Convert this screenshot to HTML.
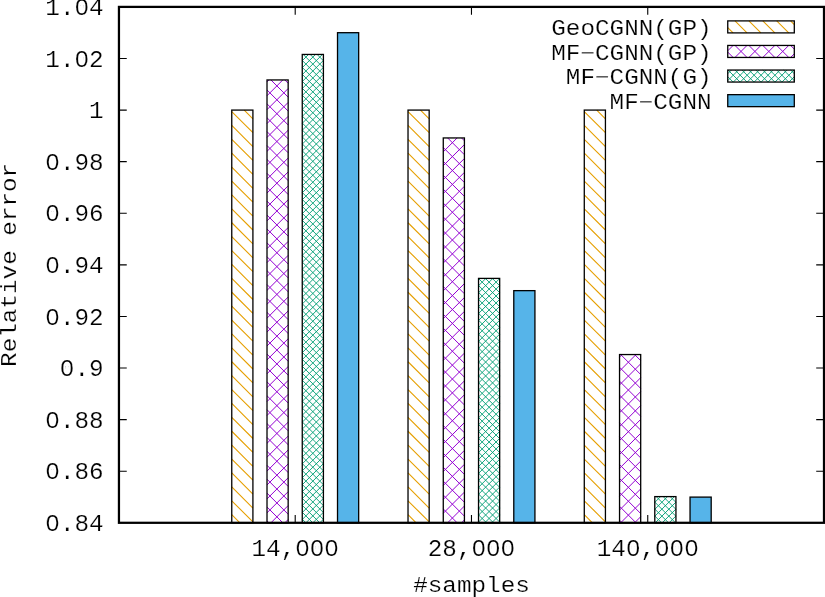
<!DOCTYPE html>
<html lang="en">
<head>
<meta charset="utf-8">
<title>Relative error vs #samples</title>
<style>
html,body{margin:0;padding:0;background:#fff;}
body{width:825px;height:597px;overflow:hidden;}
svg{display:block;}
</style>
</head>
<body>
<svg width="825" height="597" viewBox="0 0 825 597">
<desc>Clustered bar chart of Relative error against #samples (14,000, 28,000, 140,000) for GeoCGNN(GP), MF-CGNN(GP), MF-CGNN(G) and MF-CGNN.</desc>
<rect x="0" y="0" width="825" height="597" fill="#fff"/>
<path d="M118.95 471.21h7.8M824 471.21h-7.8M118.95 419.62h7.8M824 419.62h-7.8M118.95 368.03h7.8M824 368.03h-7.8M118.95 316.44h7.8M824 316.44h-7.8M118.95 264.85h7.8M824 264.85h-7.8M118.95 213.26h7.8M824 213.26h-7.8M118.95 161.67h7.8M824 161.67h-7.8M118.95 110.08h7.8M824 110.08h-7.8M118.95 58.49h7.8M824 58.49h-7.8M295.21 522.8v-7.8M295.21 6.9v7.8M471.47 522.8v-7.8M471.47 6.9v7.8M647.74 522.8v-7.8M647.74 6.9v7.8" fill="none" stroke="#000" stroke-width="1.1"/>
<path d="M239.88 522.8L231.76 514.67M252.91 521.92L231.76 500.77M252.91 508.02L231.76 486.87M252.91 494.12L231.76 472.97M252.91 480.22L231.76 459.07M252.91 466.32L231.76 445.17M252.91 452.41L231.76 431.26M252.91 438.51L231.76 417.36M252.91 424.61L231.76 403.46M252.91 410.71L231.76 389.56M252.91 396.81L231.76 375.66M252.91 382.91L231.76 361.76M252.91 369L231.76 347.85M252.91 355.1L231.76 333.95M252.91 341.2L231.76 320.05M252.91 327.3L231.76 306.15M252.91 313.4L231.76 292.25M252.91 299.5L231.76 278.35M252.91 285.59L231.76 264.44M252.91 271.69L231.76 250.54M252.91 257.79L231.76 236.64M252.91 243.89L231.76 222.74M252.91 229.99L231.76 208.84M252.91 216.09L231.76 194.94M252.91 202.18L231.76 181.03M252.91 188.28L231.76 167.13M252.91 174.38L231.76 153.23M252.91 160.48L231.76 139.33M252.91 146.58L231.76 125.43M252.91 132.67L231.76 111.52M252.91 118.77L244.22 110.08" fill="none" stroke="#e69f00" stroke-width="1.1"/>
<rect x="231.76" y="110.08" width="21.15" height="412.72" fill="none" stroke="#000" stroke-width="1.3"/>
<path d="M267.01 81.86L268.92 79.95M267.01 520.89L268.92 522.8M267.01 95.76L282.82 79.95M267.01 506.99L282.82 522.8M267.01 109.66L288.16 88.51M267.01 493.09L288.16 514.24M267.01 123.57L288.16 102.42M267.01 479.18L288.16 500.33M267.01 137.47L288.16 116.32M267.01 465.28L288.16 486.43M267.01 151.37L288.16 130.22M267.01 451.38L288.16 472.53M267.01 165.27L288.16 144.12M267.01 437.48L288.16 458.63M267.01 179.17L288.16 158.02M267.01 423.58L288.16 444.73M267.01 193.07L288.16 171.92M267.01 409.68L288.16 430.83M267.01 206.98L288.16 185.83M267.01 395.77L288.16 416.92M267.01 220.88L288.16 199.73M267.01 381.87L288.16 403.02M267.01 234.78L288.16 213.63M267.01 367.97L288.16 389.12M267.01 248.68L288.16 227.53M267.01 354.07L288.16 375.22M267.01 262.58L288.16 241.43M267.01 340.17L288.16 361.32M267.01 276.49L288.16 255.34M267.01 326.26L288.16 347.41M267.01 290.39L288.16 269.24M267.01 312.36L288.16 333.51M267.01 304.29L288.16 283.14M267.01 298.46L288.16 319.61M267.01 318.19L288.16 297.04M267.01 284.56L288.16 305.71M267.01 332.09L288.16 310.94M267.01 270.66L288.16 291.81M267.01 345.99L288.16 324.84M267.01 256.76L288.16 277.91M267.01 359.9L288.16 338.75M267.01 242.85L288.16 264M267.01 373.8L288.16 352.65M267.01 228.95L288.16 250.1M267.01 387.7L288.16 366.55M267.01 215.05L288.16 236.2M267.01 401.6L288.16 380.45M267.01 201.15L288.16 222.3M267.01 415.5L288.16 394.35M267.01 187.25L288.16 208.4M267.01 429.4L288.16 408.25M267.01 173.35L288.16 194.5M267.01 443.31L288.16 422.16M267.01 159.44L288.16 180.59M267.01 457.21L288.16 436.06M267.01 145.54L288.16 166.69M267.01 471.11L288.16 449.96M267.01 131.64L288.16 152.79M267.01 485.01L288.16 463.86M267.01 117.74L288.16 138.89M267.01 498.91L288.16 477.76M267.01 103.84L288.16 124.99M267.01 512.81L288.16 491.66M267.01 89.94L288.16 111.09M270.93 522.8L288.16 505.57M270.93 79.95L288.16 97.18M284.83 522.8L288.16 519.47M284.83 79.95L288.16 83.28" fill="none" stroke="#9400d3" stroke-width="1.0"/>
<rect x="267.01" y="79.95" width="21.15" height="442.85" fill="none" stroke="#000" stroke-width="1.3"/>
<path d="M305.86 522.8L302.26 519.2M319.81 522.8L323.41 519.2M312.81 522.8L302.26 512.25M312.86 522.8L323.41 512.25M319.77 522.8L302.26 505.3M305.91 522.8L323.41 505.3M323.41 519.5L302.26 498.35M302.26 519.5L323.41 498.35M323.41 512.55L302.26 491.4M302.26 512.55L323.41 491.4M323.41 505.6L302.26 484.45M302.26 505.6L323.41 484.45M323.41 498.64L302.26 477.49M302.26 498.64L323.41 477.49M323.41 491.69L302.26 470.54M302.26 491.69L323.41 470.54M323.41 484.74L302.26 463.59M302.26 484.74L323.41 463.59M323.41 477.79L302.26 456.64M302.26 477.79L323.41 456.64M323.41 470.84L302.26 449.69M302.26 470.84L323.41 449.69M323.41 463.89L302.26 442.74M302.26 463.89L323.41 442.74M323.41 456.94L302.26 435.79M302.26 456.94L323.41 435.79M323.41 449.99L302.26 428.84M302.26 449.99L323.41 428.84M323.41 443.04L302.26 421.89M302.26 443.04L323.41 421.89M323.41 436.09L302.26 414.94M302.26 436.09L323.41 414.94M323.41 429.14L302.26 407.99M302.26 429.14L323.41 407.99M323.41 422.19L302.26 401.04M302.26 422.19L323.41 401.04M323.41 415.23L302.26 394.08M302.26 415.23L323.41 394.08M323.41 408.28L302.26 387.13M302.26 408.28L323.41 387.13M323.41 401.33L302.26 380.18M302.26 401.33L323.41 380.18M323.41 394.38L302.26 373.23M302.26 394.38L323.41 373.23M323.41 387.43L302.26 366.28M302.26 387.43L323.41 366.28M323.41 380.48L302.26 359.33M302.26 380.48L323.41 359.33M323.41 373.53L302.26 352.38M302.26 373.53L323.41 352.38M323.41 366.58L302.26 345.43M302.26 366.58L323.41 345.43M323.41 359.63L302.26 338.48M302.26 359.63L323.41 338.48M323.41 352.68L302.26 331.53M302.26 352.68L323.41 331.53M323.41 345.73L302.26 324.58M302.26 345.73L323.41 324.58M323.41 338.77L302.26 317.62M302.26 338.77L323.41 317.62M323.41 331.82L302.26 310.67M302.26 331.82L323.41 310.67M323.41 324.87L302.26 303.72M302.26 324.87L323.41 303.72M323.41 317.92L302.26 296.77M302.26 317.92L323.41 296.77M323.41 310.97L302.26 289.82M302.26 310.97L323.41 289.82M323.41 304.02L302.26 282.87M302.26 304.02L323.41 282.87M323.41 297.07L302.26 275.92M302.26 297.07L323.41 275.92M323.41 290.12L302.26 268.97M302.26 290.12L323.41 268.97M323.41 283.17L302.26 262.02M302.26 283.17L323.41 262.02M323.41 276.22L302.26 255.07M302.26 276.22L323.41 255.07M323.41 269.27L302.26 248.12M302.26 269.27L323.41 248.12M323.41 262.32L302.26 241.17M302.26 262.32L323.41 241.17M323.41 255.36L302.26 234.21M302.26 255.36L323.41 234.21M323.41 248.41L302.26 227.26M302.26 248.41L323.41 227.26M323.41 241.46L302.26 220.31M302.26 241.46L323.41 220.31M323.41 234.51L302.26 213.36M302.26 234.51L323.41 213.36M323.41 227.56L302.26 206.41M302.26 227.56L323.41 206.41M323.41 220.61L302.26 199.46M302.26 220.61L323.41 199.46M323.41 213.66L302.26 192.51M302.26 213.66L323.41 192.51M323.41 206.71L302.26 185.56M302.26 206.71L323.41 185.56M323.41 199.76L302.26 178.61M302.26 199.76L323.41 178.61M323.41 192.81L302.26 171.66M302.26 192.81L323.41 171.66M323.41 185.86L302.26 164.71M302.26 185.86L323.41 164.71M323.41 178.91L302.26 157.76M302.26 178.91L323.41 157.76M323.41 171.95L302.26 150.8M302.26 171.95L323.41 150.8M323.41 165L302.26 143.85M302.26 165L323.41 143.85M323.41 158.05L302.26 136.9M302.26 158.05L323.41 136.9M323.41 151.1L302.26 129.95M302.26 151.1L323.41 129.95M323.41 144.15L302.26 123M302.26 144.15L323.41 123M323.41 137.2L302.26 116.05M302.26 137.2L323.41 116.05M323.41 130.25L302.26 109.1M302.26 130.25L323.41 109.1M323.41 123.3L302.26 102.15M302.26 123.3L323.41 102.15M323.41 116.35L302.26 95.2M302.26 116.35L323.41 95.2M323.41 109.4L302.26 88.25M302.26 109.4L323.41 88.25M323.41 102.45L302.26 81.3M302.26 102.45L323.41 81.3M323.41 95.49L302.26 74.34M302.26 95.49L323.41 74.34M323.41 88.54L302.26 67.39M302.26 88.54L323.41 67.39M323.41 81.59L302.26 60.44M302.26 81.59L323.41 60.44M323.41 74.64L303.22 54.45M302.26 74.64L322.46 54.45M323.41 67.69L310.17 54.45M302.26 67.69L315.51 54.45M323.41 60.74L317.12 54.45M302.26 60.74L308.55 54.45" fill="none" stroke="#009e73" stroke-width="0.92"/>
<rect x="302.26" y="54.45" width="21.15" height="468.35" fill="none" stroke="#000" stroke-width="1.3"/>
<rect x="337.52" y="32.69" width="21.15" height="490.11" fill="#56b4e9"/>
<rect x="337.52" y="32.69" width="21.15" height="490.11" fill="none" stroke="#000" stroke-width="1.3"/>
<path d="M416.15 522.8L408.02 514.67M429.17 521.92L408.02 500.77M429.17 508.02L408.02 486.87M429.17 494.12L408.02 472.97M429.17 480.22L408.02 459.07M429.17 466.32L408.02 445.17M429.17 452.41L408.02 431.26M429.17 438.51L408.02 417.36M429.17 424.61L408.02 403.46M429.17 410.71L408.02 389.56M429.17 396.81L408.02 375.66M429.17 382.91L408.02 361.76M429.17 369L408.02 347.85M429.17 355.1L408.02 333.95M429.17 341.2L408.02 320.05M429.17 327.3L408.02 306.15M429.17 313.4L408.02 292.25M429.17 299.5L408.02 278.35M429.17 285.59L408.02 264.44M429.17 271.69L408.02 250.54M429.17 257.79L408.02 236.64M429.17 243.89L408.02 222.74M429.17 229.99L408.02 208.84M429.17 216.09L408.02 194.94M429.17 202.18L408.02 181.03M429.17 188.28L408.02 167.13M429.17 174.38L408.02 153.23M429.17 160.48L408.02 139.33M429.17 146.58L408.02 125.43M429.17 132.67L408.02 111.52M429.17 118.77L420.48 110.08" fill="none" stroke="#e69f00" stroke-width="1.1"/>
<rect x="408.02" y="110.08" width="21.15" height="412.72" fill="none" stroke="#000" stroke-width="1.3"/>
<path d="M443.27 151.82L457.14 137.95M443.27 508.93L457.14 522.8M443.27 165.72L464.42 144.57M443.27 495.03L464.42 516.18M443.27 179.62L464.42 158.47M443.27 481.13L464.42 502.28M443.27 193.52L464.42 172.37M443.27 467.23L464.42 488.38M443.27 207.43L464.42 186.28M443.27 453.32L464.42 474.47M443.27 221.33L464.42 200.18M443.27 439.42L464.42 460.57M443.27 235.23L464.42 214.08M443.27 425.52L464.42 446.67M443.27 249.13L464.42 227.98M443.27 411.62L464.42 432.77M443.27 263.03L464.42 241.88M443.27 397.72L464.42 418.87M443.27 276.94L464.42 255.79M443.27 383.81L464.42 404.96M443.27 290.84L464.42 269.69M443.27 369.91L464.42 391.06M443.27 304.74L464.42 283.59M443.27 356.01L464.42 377.16M443.27 318.64L464.42 297.49M443.27 342.11L464.42 363.26M443.27 332.54L464.42 311.39M443.27 328.21L464.42 349.36M443.27 346.44L464.42 325.29M443.27 314.31L464.42 335.46M443.27 360.35L464.42 339.2M443.27 300.4L464.42 321.55M443.27 374.25L464.42 353.1M443.27 286.5L464.42 307.65M443.27 388.15L464.42 367M443.27 272.6L464.42 293.75M443.27 402.05L464.42 380.9M443.27 258.7L464.42 279.85M443.27 415.95L464.42 394.8M443.27 244.8L464.42 265.95M443.27 429.85L464.42 408.7M443.27 230.9L464.42 252.05M443.27 443.76L464.42 422.61M443.27 216.99L464.42 238.14M443.27 457.66L464.42 436.51M443.27 203.09L464.42 224.24M443.27 471.56L464.42 450.41M443.27 189.19L464.42 210.34M443.27 485.46L464.42 464.31M443.27 175.29L464.42 196.44M443.27 499.36L464.42 478.21M443.27 161.39L464.42 182.54M443.27 513.26L464.42 492.11M443.27 147.49L464.42 168.64M447.64 522.8L464.42 506.02M447.64 137.95L464.42 154.73M461.54 522.8L464.42 519.92M461.54 137.95L464.42 140.83" fill="none" stroke="#9400d3" stroke-width="1.0"/>
<rect x="443.27" y="137.95" width="21.15" height="384.85" fill="none" stroke="#000" stroke-width="1.3"/>
<path d="M479.54 522.8L478.53 521.78M498.66 522.8L499.68 521.78M486.49 522.8L478.53 514.83M491.71 522.8L499.68 514.83M493.45 522.8L478.53 507.88M484.76 522.8L499.68 507.88M499.68 522.08L478.53 500.93M478.53 522.08L499.68 500.93M499.68 515.13L478.53 493.98M478.53 515.13L499.68 493.98M499.68 508.18L478.53 487.03M478.53 508.18L499.68 487.03M499.68 501.23L478.53 480.08M478.53 501.23L499.68 480.08M499.68 494.28L478.53 473.13M478.53 494.28L499.68 473.13M499.68 487.33L478.53 466.18M478.53 487.33L499.68 466.18M499.68 480.37L478.53 459.22M478.53 480.37L499.68 459.22M499.68 473.42L478.53 452.27M478.53 473.42L499.68 452.27M499.68 466.47L478.53 445.32M478.53 466.47L499.68 445.32M499.68 459.52L478.53 438.37M478.53 459.52L499.68 438.37M499.68 452.57L478.53 431.42M478.53 452.57L499.68 431.42M499.68 445.62L478.53 424.47M478.53 445.62L499.68 424.47M499.68 438.67L478.53 417.52M478.53 438.67L499.68 417.52M499.68 431.72L478.53 410.57M478.53 431.72L499.68 410.57M499.68 424.77L478.53 403.62M478.53 424.77L499.68 403.62M499.68 417.82L478.53 396.67M478.53 417.82L499.68 396.67M499.68 410.87L478.53 389.72M478.53 410.87L499.68 389.72M499.68 403.92L478.53 382.77M478.53 403.92L499.68 382.77M499.68 396.96L478.53 375.81M478.53 396.96L499.68 375.81M499.68 390.01L478.53 368.86M478.53 390.01L499.68 368.86M499.68 383.06L478.53 361.91M478.53 383.06L499.68 361.91M499.68 376.11L478.53 354.96M478.53 376.11L499.68 354.96M499.68 369.16L478.53 348.01M478.53 369.16L499.68 348.01M499.68 362.21L478.53 341.06M478.53 362.21L499.68 341.06M499.68 355.26L478.53 334.11M478.53 355.26L499.68 334.11M499.68 348.31L478.53 327.16M478.53 348.31L499.68 327.16M499.68 341.36L478.53 320.21M478.53 341.36L499.68 320.21M499.68 334.41L478.53 313.26M478.53 334.41L499.68 313.26M499.68 327.46L478.53 306.31M478.53 327.46L499.68 306.31M499.68 320.51L478.53 299.36M478.53 320.51L499.68 299.36M499.68 313.55L478.53 292.4M478.53 313.55L499.68 292.4M499.68 306.6L478.53 285.45M478.53 306.6L499.68 285.45M499.68 299.65L478.53 278.5M478.53 299.65L499.68 278.5M499.68 292.7L485.37 278.4M478.53 292.7L492.83 278.4M499.68 285.75L492.33 278.4M478.53 285.75L485.88 278.4M499.68 278.8L499.28 278.4M478.53 278.8L478.93 278.4" fill="none" stroke="#009e73" stroke-width="0.92"/>
<rect x="478.53" y="278.4" width="21.15" height="244.4" fill="none" stroke="#000" stroke-width="1.3"/>
<rect x="513.78" y="290.64" width="21.15" height="232.16" fill="#56b4e9"/>
<rect x="513.78" y="290.64" width="21.15" height="232.16" fill="none" stroke="#000" stroke-width="1.3"/>
<path d="M592.41 522.8L584.28 514.67M605.43 521.92L584.28 500.77M605.43 508.02L584.28 486.87M605.43 494.12L584.28 472.97M605.43 480.22L584.28 459.07M605.43 466.32L584.28 445.17M605.43 452.41L584.28 431.26M605.43 438.51L584.28 417.36M605.43 424.61L584.28 403.46M605.43 410.71L584.28 389.56M605.43 396.81L584.28 375.66M605.43 382.91L584.28 361.76M605.43 369L584.28 347.85M605.43 355.1L584.28 333.95M605.43 341.2L584.28 320.05M605.43 327.3L584.28 306.15M605.43 313.4L584.28 292.25M605.43 299.5L584.28 278.35M605.43 285.59L584.28 264.44M605.43 271.69L584.28 250.54M605.43 257.79L584.28 236.64M605.43 243.89L584.28 222.74M605.43 229.99L584.28 208.84M605.43 216.09L584.28 194.94M605.43 202.18L584.28 181.03M605.43 188.28L584.28 167.13M605.43 174.38L584.28 153.23M605.43 160.48L584.28 139.33M605.43 146.58L584.28 125.43M605.43 132.67L584.28 111.52M605.43 118.77L596.74 110.08" fill="none" stroke="#e69f00" stroke-width="1.1"/>
<rect x="584.28" y="110.08" width="21.15" height="412.72" fill="none" stroke="#000" stroke-width="1.3"/>
<path d="M619.54 357.15L622.13 354.55M619.54 520.2L622.13 522.8M619.54 371.05L636.03 354.55M619.54 506.3L636.03 522.8M619.54 384.95L640.69 363.8M619.54 492.4L640.69 513.55M619.54 398.85L640.69 377.7M619.54 478.5L640.69 499.65M619.54 412.75L640.69 391.6M619.54 464.6L640.69 485.75M619.54 426.66L640.69 405.51M619.54 450.69L640.69 471.84M619.54 440.56L640.69 419.41M619.54 436.79L640.69 457.94M619.54 454.46L640.69 433.31M619.54 422.89L640.69 444.04M619.54 468.36L640.69 447.21M619.54 408.99L640.69 430.14M619.54 482.26L640.69 461.11M619.54 395.09L640.69 416.24M619.54 496.16L640.69 475.01M619.54 381.19L640.69 402.34M619.54 510.07L640.69 488.92M619.54 367.28L640.69 388.43M620.7 522.8L640.69 502.82M620.7 354.55L640.69 374.53M634.61 522.8L640.69 516.72M634.61 354.55L640.69 360.63" fill="none" stroke="#9400d3" stroke-width="1.0"/>
<rect x="619.54" y="354.55" width="21.15" height="168.25" fill="none" stroke="#000" stroke-width="1.3"/>
<path d="M661.61 522.8L654.79 515.98M669.12 522.8L675.94 515.98M668.56 522.8L654.79 509.03M662.17 522.8L675.94 509.03M675.51 522.8L654.79 502.08M655.22 522.8L675.94 502.08M675.94 516.28L656.26 496.6M654.79 516.28L674.47 496.6M675.94 509.33L663.21 496.6M654.79 509.33L667.52 496.6M675.94 502.38L670.16 496.6M654.79 502.38L660.57 496.6" fill="none" stroke="#009e73" stroke-width="0.92"/>
<rect x="654.79" y="496.6" width="21.15" height="26.2" fill="none" stroke="#000" stroke-width="1.3"/>
<rect x="690.04" y="497.1" width="21.15" height="25.7" fill="#56b4e9"/>
<rect x="690.04" y="497.1" width="21.15" height="25.7" fill="none" stroke="#000" stroke-width="1.3"/>
<path d="M733.11 32.9L727.75 27.54M747.01 32.9L735.01 20.9M760.91 32.9L748.91 20.9M774.82 32.9L762.82 20.9M788.72 32.9L776.72 20.9M794.3 24.58L790.62 20.9" fill="none" stroke="#e69f00" stroke-width="1.1"/>
<rect x="727.75" y="20.9" width="66.55" height="12" fill="none" stroke="#000" stroke-width="1.3"/>
<path d="M727.75 50.81L733.11 45.45M727.75 52.09L733.11 57.45M735.01 57.45L747.01 45.45M735.01 45.45L747.01 57.45M748.91 57.45L760.91 45.45M748.91 45.45L760.91 57.45M762.82 57.45L774.82 45.45M762.82 45.45L774.82 57.45M776.72 57.45L788.72 45.45M776.72 45.45L788.72 57.45M790.62 57.45L794.3 53.77M790.62 45.45L794.3 49.13" fill="none" stroke="#9400d3" stroke-width="1.0"/>
<rect x="727.75" y="45.45" width="66.55" height="12" fill="none" stroke="#000" stroke-width="1.3"/>
<path d="M733.11 82.05L727.75 76.69M788.94 82.05L794.3 76.69M740.06 82.05L728.06 70.05M781.99 82.05L793.99 70.05M747.01 82.05L735.01 70.05M775.04 82.05L787.04 70.05M753.96 82.05L741.96 70.05M768.09 82.05L780.09 70.05M760.91 82.05L748.91 70.05M761.14 82.05L773.14 70.05M767.86 82.05L755.86 70.05M754.19 82.05L766.19 70.05M774.82 82.05L762.82 70.05M747.23 82.05L759.23 70.05M781.77 82.05L769.77 70.05M740.28 82.05L752.28 70.05M788.72 82.05L776.72 70.05M733.33 82.05L745.33 70.05M794.3 80.68L783.67 70.05M727.75 80.68L738.38 70.05M794.3 73.73L790.62 70.05M727.75 73.73L731.43 70.05" fill="none" stroke="#009e73" stroke-width="0.92"/>
<rect x="727.75" y="70.05" width="66.55" height="12" fill="none" stroke="#000" stroke-width="1.3"/>
<rect x="727.75" y="94.65" width="66.55" height="12" fill="#56b4e9"/>
<rect x="727.75" y="94.65" width="66.55" height="12" fill="none" stroke="#000" stroke-width="1.3"/>
<rect x="118.95" y="6.9" width="705.05" height="515.9" fill="none" stroke="#000" stroke-width="2.25"/>
<g font-family='"Liberation Mono", monospace' font-size="24.3" fill="#000" stroke="#fff" stroke-width="0.2">
<g transform="translate(103.6 530.95) scale(1 0.95)"><text text-anchor="end">0.84</text><ellipse cx="-51.04" cy="-7.9" rx="1.9" ry="3.3" fill="#fff" stroke="none"/></g>
<g transform="translate(103.6 479.36) scale(1 0.95)"><text text-anchor="end">0.86</text><ellipse cx="-51.04" cy="-7.9" rx="1.9" ry="3.3" fill="#fff" stroke="none"/></g>
<g transform="translate(103.6 427.77) scale(1 0.95)"><text text-anchor="end">0.88</text><ellipse cx="-51.04" cy="-7.9" rx="1.9" ry="3.3" fill="#fff" stroke="none"/></g>
<g transform="translate(103.6 376.18) scale(1 0.95)"><text text-anchor="end">0.9</text><ellipse cx="-36.46" cy="-7.9" rx="1.9" ry="3.3" fill="#fff" stroke="none"/></g>
<g transform="translate(103.6 324.59) scale(1 0.95)"><text text-anchor="end">0.92</text><ellipse cx="-51.04" cy="-7.9" rx="1.9" ry="3.3" fill="#fff" stroke="none"/></g>
<g transform="translate(103.6 273) scale(1 0.95)"><text text-anchor="end">0.94</text><ellipse cx="-51.04" cy="-7.9" rx="1.9" ry="3.3" fill="#fff" stroke="none"/></g>
<g transform="translate(103.6 221.41) scale(1 0.95)"><text text-anchor="end">0.96</text><ellipse cx="-51.04" cy="-7.9" rx="1.9" ry="3.3" fill="#fff" stroke="none"/></g>
<g transform="translate(103.6 169.82) scale(1 0.95)"><text text-anchor="end">0.98</text><ellipse cx="-51.04" cy="-7.9" rx="1.9" ry="3.3" fill="#fff" stroke="none"/></g>
<text transform="translate(103.6 118.23) scale(1 0.95)" text-anchor="end">1</text>
<g transform="translate(103.6 66.64) scale(1 0.95)"><text text-anchor="end">1.02</text><ellipse cx="-21.87" cy="-7.9" rx="1.9" ry="3.3" fill="#fff" stroke="none"/></g>
<g transform="translate(103.6 15.05) scale(1 0.95)"><text text-anchor="end">1.04</text><ellipse cx="-21.87" cy="-7.9" rx="1.9" ry="3.3" fill="#fff" stroke="none"/></g>
<g transform="translate(295.21 555.5) scale(1 0.95)"><text text-anchor="middle">14,000</text><ellipse cx="7.29" cy="-7.9" rx="1.9" ry="3.3" fill="#fff" stroke="none"/><ellipse cx="21.87" cy="-7.9" rx="1.9" ry="3.3" fill="#fff" stroke="none"/><ellipse cx="36.46" cy="-7.9" rx="1.9" ry="3.3" fill="#fff" stroke="none"/></g>
<g transform="translate(471.47 555.5) scale(1 0.95)"><text text-anchor="middle">28,000</text><ellipse cx="7.29" cy="-7.9" rx="1.9" ry="3.3" fill="#fff" stroke="none"/><ellipse cx="21.87" cy="-7.9" rx="1.9" ry="3.3" fill="#fff" stroke="none"/><ellipse cx="36.46" cy="-7.9" rx="1.9" ry="3.3" fill="#fff" stroke="none"/></g>
<g transform="translate(647.74 555.5) scale(1 0.95)"><text text-anchor="middle">140,000</text><ellipse cx="-14.58" cy="-7.9" rx="1.9" ry="3.3" fill="#fff" stroke="none"/><ellipse cx="14.58" cy="-7.9" rx="1.9" ry="3.3" fill="#fff" stroke="none"/><ellipse cx="29.16" cy="-7.9" rx="1.9" ry="3.3" fill="#fff" stroke="none"/><ellipse cx="43.75" cy="-7.9" rx="1.9" ry="3.3" fill="#fff" stroke="none"/></g>
<text transform="translate(471.48 592.2) scale(1 0.87)" text-anchor="middle">#samples</text>
<text transform="translate(15.5 264.85) rotate(-90) scale(1 0.87)" text-anchor="middle">Relative error</text>
<text transform="translate(711.6 35.05) scale(1 0.87)" text-anchor="end">GeoCGNN(GP)</text>
<text transform="translate(711.6 59.6) scale(1 0.87)" text-anchor="end">MF−CGNN(GP)</text>
<text transform="translate(711.6 84.2) scale(1 0.87)" text-anchor="end">MF−CGNN(G)</text>
<text transform="translate(711.6 108.8) scale(1 0.87)" text-anchor="end">MF−CGNN</text>
</g>
</svg>
</body>
</html>
